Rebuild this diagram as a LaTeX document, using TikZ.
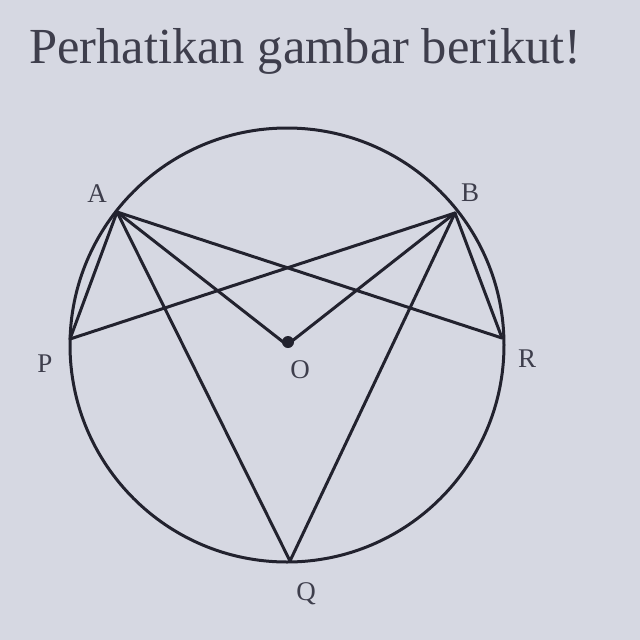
\documentclass[tikz,border=0pt]{standalone}
\usepackage{fontspec}
\setmainfont{Liberation Serif}
\definecolor{paper}{RGB}{214,216,226}
\definecolor{ink}{RGB}{34,34,46}
\definecolor{labelink}{RGB}{62,62,76}
\begin{document}
\begin{tikzpicture}[x=1pt,y=-1pt,
  chord/.style={draw=ink,line width=3pt,line cap=round,line join=round},
  lbl/.style={text=labelink,font=\fontsize{27}{27}\selectfont,inner sep=0pt}]
\fill[paper] (0,0) rectangle (640,640);
\useasboundingbox (0,0) rectangle (640,640);
\node[anchor=base west,inner sep=0pt,text=labelink,font=\fontsize{50.5}{50}\selectfont] (title) at (29,63) {Perhatikan gambar berikut!};
\coordinate (O) at (287,345);
\coordinate (A) at (117,212);
\coordinate (B) at (455,213);
\coordinate (P) at (70,339);
\coordinate (R) at (502,338);
\coordinate (Q) at (290,561);
\draw[chord] (O) circle[radius=217];
\draw[chord] (A) -- (P);
\draw[chord] (A) -- (R);
\draw[chord] (A) -- (O);
\draw[chord] (A) -- (Q);
\draw[chord] (B) -- (P);
\draw[chord] (B) -- (R);
\draw[chord] (B) -- (O);
\draw[chord] (B) -- (Q);
\fill[ink] (288,342) circle[radius=6];
\node[lbl] (la) at (97,194) {A};
\node[lbl] (lb) at (470,193) {B};
\node[lbl] (lp) at (45,364) {P};
\node[lbl] (lr) at (527,359) {R};
\node[lbl] (lo) at (300,370) {O};
\node[lbl] (lq) at (306,594) {Q};
\end{tikzpicture}
\end{document}
